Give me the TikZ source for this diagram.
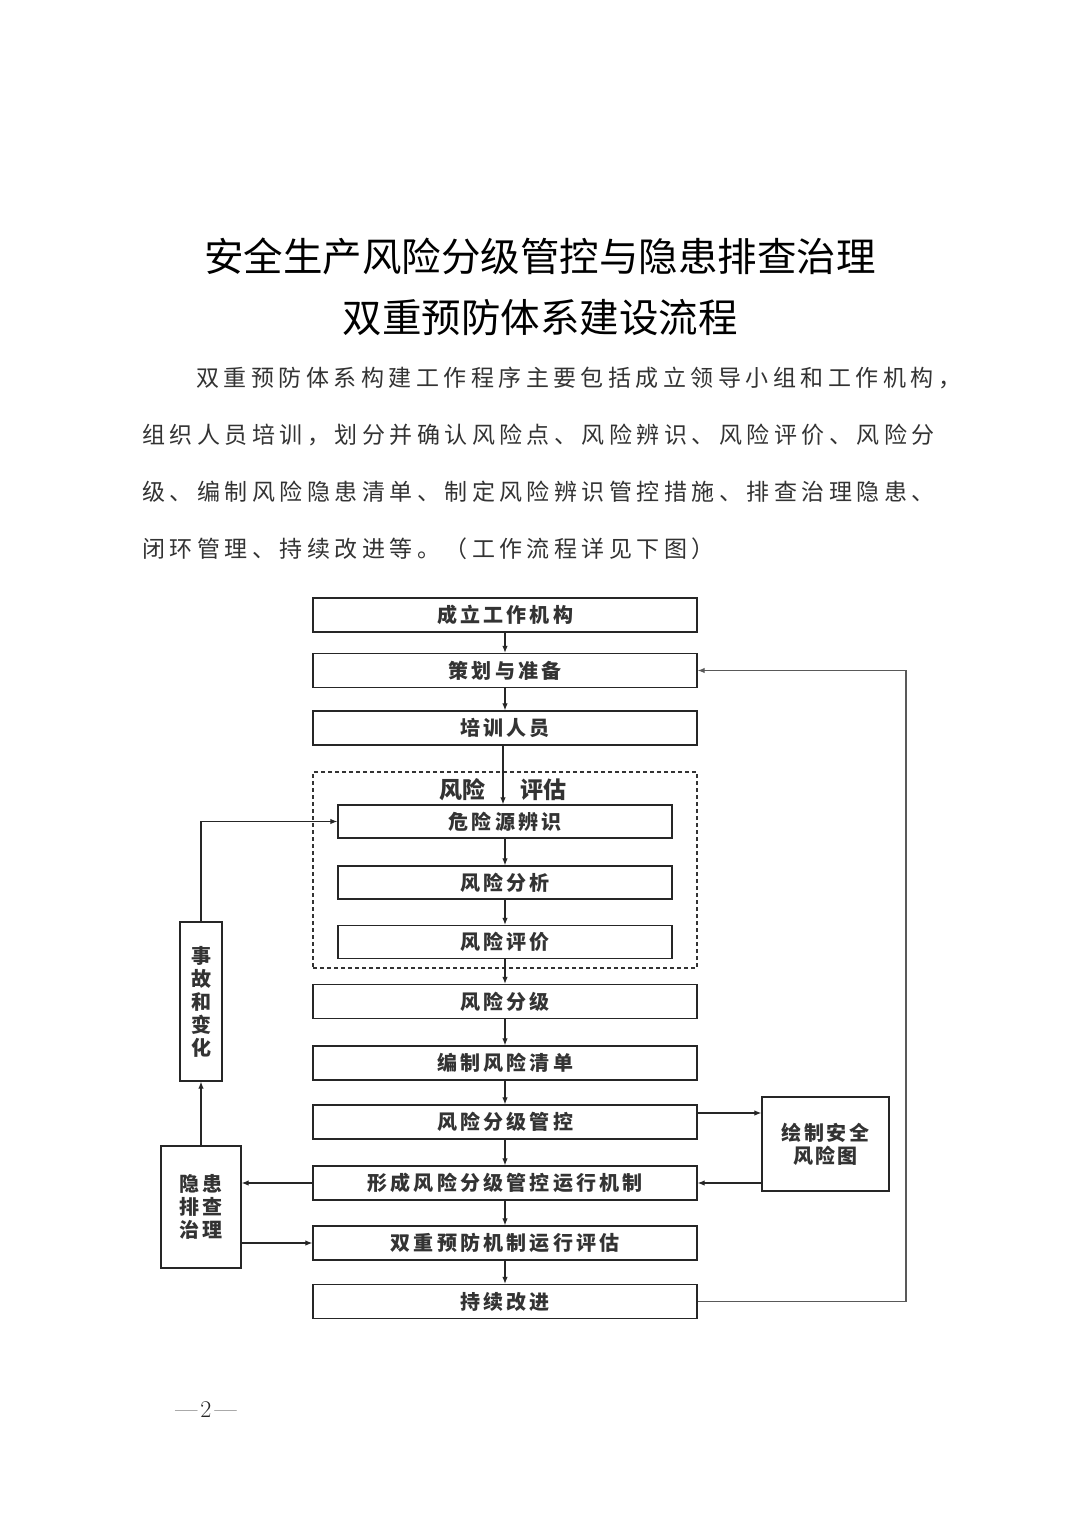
\documentclass[tikz,border=0pt]{standalone}
\usepackage{fontspec}
\usetikzlibrary{arrows.meta,calc}
\newfontfamily\cjktitle{Noto Sans CJK SC}
\newfontfamily\cjkbody{Noto Sans CJK SC}[LetterSpace=19.5]
\newfontfamily\cjkflow{Noto Sans CJK SC}[LetterSpace=16]
\newfontfamily\cjkside{Noto Sans CJK SC}[LetterSpace=12]
\newfontfamily\cjkplain{Noto Sans CJK SC}
\begin{document}
\begin{tikzpicture}[x=1pt,y=-1pt,
  box/.style={draw=black!85, line width=1.4pt, minimum width=384pt, minimum height=34pt, inner sep=0pt,
    font=\cjkflow\bfseries\fontsize{20}{23}\selectfont, text=black!80},
  sub/.style={box, minimum width=334pt, minimum height=33pt},
  side/.style={draw=black!85, line width=1.4pt, inner sep=0pt, align=center,
    font=\cjkside\bfseries\fontsize{20}{23}\selectfont, text=black!80},
  arr/.style={-{Latex[length=7pt,width=5.5pt]}, line width=1.1pt, draw=black!85},
  bodytext/.style={anchor=west, inner sep=0pt, font=\cjkbody\fontsize{23}{27}\selectfont, text=black!80},
  titletext/.style={inner sep=0pt, font=\cjktitle\fontsize{39.5}{44}\selectfont, text=black}
]
\fill[white] (0,0) rectangle (1080,1528);
\useasboundingbox (0,0) rectangle (1080,1528);

% title
\node[titletext] (t1) at (540,256) {安全生产风险分级管控与隐患排查治理};
\node[titletext] (t2) at (540,318) {双重预防体系建设流程};

% body
\node[bodytext] (p1) at (196,378) {双重预防体系构建工作程序主要包括成立领导小组和工作机构，};
\node[bodytext] (p2) at (142,435) {组织人员培训，划分并确认风险点、风险辨识、风险评价、风险分};
\node[bodytext] (p3) at (142,492) {级、编制风险隐患清单、制定风险辨识管控措施、排查治理隐患、};
\node[bodytext] (p4) at (142,549) {闭环管理、持续改进等。（工作流程详见下图）};

% dashed group
\node[draw=black!80, line width=1.2pt, dash pattern=on 4pt off 3pt, minimum width=384pt, minimum height=196pt, inner sep=0pt] (grp) at (505,870) {};
\node[inner sep=0pt, font=\cjkplain\bfseries\fontsize{23}{26}\selectfont, text=black!80] (lab1) at (462,790) {风险};
\node[inner sep=0pt, font=\cjkplain\bfseries\fontsize{23}{26}\selectfont, text=black!80] (lab2) at (543,790) {评估};

% main boxes
\node[box] (b1) at (505,615) {成立工作机构};
\node[box] (b2) at (505,670.5) {策划与准备};
\node[box] (b3) at (505,728) {培训人员};
\node[sub] (r1) at (505,821.5) {危险源辨识};
\node[sub] (r2) at (505,882.5) {风险分析};
\node[sub] (r3) at (505,942) {风险评价};
\node[box] (b4) at (505,1001.5) {风险分级};
\node[box] (b5) at (505,1063) {编制风险清单};
\node[box] (b6) at (505,1122) {风险分级管控};
\node[box] (b7) at (505,1183) {形成风险分级管控运行机制};
\node[box] (b8) at (505,1243) {双重预防机制运行评估};
\node[box] (b9) at (505,1301.5) {持续改进};

% side boxes
\node[side, minimum width=42pt, minimum height=159pt] (acc) at (201,1001.5) {事\\故\\和\\变\\化};
\node[side, minimum width=80pt, minimum height=122pt] (hid) at (201,1207) {隐患\\排查\\治理};
\node[side, minimum width=127pt, minimum height=94pt] (map) at (825.5,1144) {绘制安全\\风险图};

\coordinate (fbx) at (906,0);

% connectors
\draw[arr] (b1) -- (b2);
\draw[arr] (b2) -- (b3);
\draw[arr] ([xshift=-2pt]b3.south) -- ([xshift=-2pt]r1.north);
\draw[arr] (r1) -- (r2);
\draw[arr] (r2) -- (r3);
\draw[arr] (r3) -- (b4);
\draw[arr] (b4) -- (b5);
\draw[arr] (b5) -- (b6);
\draw[arr] (b6) -- (b7);
\draw[arr] (b7) -- (b8);
\draw[arr] (b8) -- (b9);

\draw[arr] ([yshift=9pt]b6.east) -- ([yshift=9pt]b6.east -| map.west);
\draw[arr] (map.west |- b7.east) -- (b7.east);
\draw[arr] (b7.west) -- (b7.west -| hid.east);
\draw[arr] (hid.east |- b8.west) -- (b8.west);
\draw[arr] (hid.north) -- (acc.south);
\draw[arr] (acc.north) |- (r1.west);
\draw[arr, draw=black!65] (b9.east) -- (b9.east -| fbx) |- (b2.east);

% page number
\node[inner sep=0pt, font=\fontsize{24}{28}\selectfont, text=black!85] (pg) at (206,1410) {\textemdash\kern3pt 2\kern3pt\textemdash};
\end{tikzpicture}
\end{document}
